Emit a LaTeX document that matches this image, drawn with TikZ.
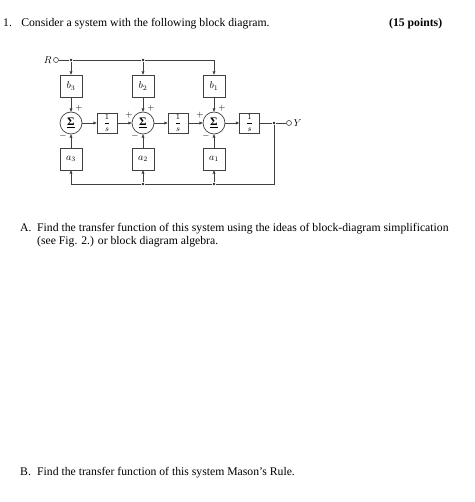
\documentclass[tikz,border=0pt]{standalone}
\usepackage{fontspec}
\setmainfont{Liberation Serif}
\usetikzlibrary{arrows.meta}
\begin{document}
\begin{tikzpicture}[x=1pt,y=-1pt,
  line/.style={draw=black!75,line width=0.7pt},
  arr/.style={line,-{Triangle[length=3.2pt,width=2.8pt]}},
  blk/.style={draw=black!75,line width=0.7pt,minimum width=22pt,minimum height=22pt,inner sep=0pt,font=\fontsize{10}{11}\selectfont},
  ints/.style={draw=black!75,line width=0.7pt,minimum width=20pt,minimum height=20pt,inner sep=0pt,font=\fontsize{8}{8}\selectfont},
  sumj/.style={circle,draw=black!75,line width=0.7pt,minimum size=22pt,inner sep=0pt,font=\fontsize{11.5}{11.5}\selectfont\bfseries},
  dot/.style={circle,fill=black!85,minimum size=2.8pt,inner sep=0pt},
  term/.style={circle,draw=black!75,line width=0.6pt,minimum size=5pt,inner sep=0pt},
  sgn/.style={font=\fontsize{9}{9}\selectfont,inner sep=0pt},
  txt/.style={anchor=base west,inner sep=0pt,font=\fontsize{11.7}{14}\selectfont}]
\useasboundingbox (0,0) rectangle (474,502);
% texts
\node[txt] (t1) at (3,27) {1.\hspace{0.8em}Consider a system with the following block diagram.};
\node[txt,font=\fontsize{11.7}{14}\selectfont\bfseries] (t2) at (389,27) {(15 points)};
\node[txt] (tA) at (20,232) {A.};
\node[txt] (tA1) at (37,232) {Find the transfer function of this system using the ideas of block-diagram simplification};
\node[txt] (tA2) at (37,244.5) {(see Fig. 2.) or block diagram algebra.};
\node[txt] (tB) at (20,475) {B.};
\node[txt] (tB1) at (37,475) {Find the transfer function of this system Mason’s Rule.};
% diagram
\node[term] (R) at (56,60) {};
\node[anchor=east,inner sep=1.5pt,font=\fontsize{10}{11}\selectfont] (Rl) at (R.west) {$R$};
\node[dot] (d1) at (71,60) {};
\node[dot] (d2) at (143,60) {};
\coordinate (c3) at (214,60);
\node[blk] (b3) at (71,86) {$b_3$};
\node[blk] (b2) at (143,86) {$b_2$};
\node[blk] (b1) at (214,86) {$b_1$};
\node[sumj] (s3) at (71,123) {\underline{Σ}};
\node[sumj] (s2) at (143,123) {\underline{Σ}};
\node[sumj] (s1) at (214,123) {\underline{Σ}};
\node[ints] (i1) at (107,123) {$\displaystyle\frac{1}{s}$};
\node[ints] (i2) at (178,123) {$\displaystyle\frac{1}{s}$};
\node[ints] (i3) at (249.5,123) {$\displaystyle\frac{1}{s}$};
\node[dot] (dy) at (274,123) {};
\node[term] (Y) at (289,123) {};
\node[anchor=west,inner sep=1.5pt,font=\fontsize{10}{11}\selectfont] (Yl) at (Y.east) {$Y$};
\node[blk] (a3) at (71,159) {$a_3$};
\node[blk] (a2) at (143,159) {$a_2$};
\node[blk] (a1) at (214,159) {$a_1$};
\coordinate (e3) at (71,184);
\node[dot] (e2) at (143,184) {};
\node[dot] (e1) at (214,184) {};
\coordinate (ey) at (274,184);
% signs
\node[sgn] (p3) at (79,108) {$+$};
\node[sgn] (p2) at (151,108) {$+$};
\node[sgn] (p1) at (222,108) {$+$};
\node[sgn] (q2) at (129,115) {$+$};
\node[sgn] (q1) at (200,115) {$+$};
\node[sgn] (m3) at (63,136) {$-$};
\node[sgn] (m2) at (135,136) {$-$};
\node[sgn] (m1) at (206,136) {$-$};
% connectors
\draw[line] (R) -- (d1) -- (d2) -- (c3);
\draw[arr] (d1) -- (b3);
\draw[arr] (d2) -- (b2);
\draw[arr] (c3) -- (b1);
\draw[arr] (b3) -- (s3);
\draw[arr] (b2) -- (s2);
\draw[arr] (b1) -- (s1);
\draw[arr] (s3) -- (i1);
\draw[arr] (i1) -- (s2);
\draw[arr] (s2) -- (i2);
\draw[arr] (i2) -- (s1);
\draw[arr] (s1) -- (i3);
\draw[line] (i3) -- (dy) -- (Y);
\draw[line] (dy) -- (ey) -- (e1) -- (e2) -- (e3);
\draw[arr] (e3) -- (a3);
\draw[arr] (e2) -- (a2);
\draw[arr] (e1) -- (a1);
\draw[arr] (a3) -- (s3);
\draw[arr] (a2) -- (s2);
\draw[arr] (a1) -- (s1);
\end{tikzpicture}
\end{document}
